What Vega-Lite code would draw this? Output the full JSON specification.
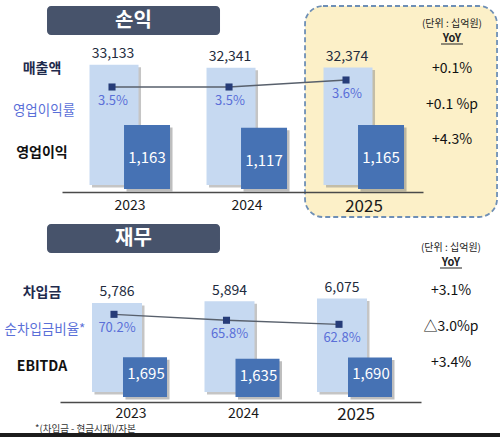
{
  "$schema": "https://vega.github.io/schema/vega-lite/v6.json",
  "background": "#1c1c1c",
  "padding": {"left": 0, "top": 0, "right": 0, "bottom": 4},
  "spacing": 0,
  "bounds": "flush",
  "config": {"view": {"fill": "#ffffff", "stroke": null}, "font": "Noto Sans CJK KR", "text": {"font": "Noto Sans CJK KR", "baseline": "middle"}},
  "datasets": {
    "pl": [
      {"year": "2023", "revenue": 33133, "op": 1163, "margin": 0.035},
      {"year": "2024", "revenue": 32341, "op": 1117, "margin": 0.035},
      {"year": "2025", "revenue": 32374, "op": 1165, "margin": 0.036}
    ],
    "fin": [
      {"year": "2023", "debt": 5786, "ebitda": 1695, "ratio": 0.702},
      {"year": "2024", "debt": 5894, "ebitda": 1635, "ratio": 0.658},
      {"year": "2025", "debt": 6075, "ebitda": 1690, "ratio": 0.628}
    ],
    "plRows": [
      {"metric": "매출액", "yoy": "+0.1%"},
      {"metric": "영업이익률", "yoy": "+0.1 %p"},
      {"metric": "영업이익", "yoy": "+4.3%"}
    ],
    "finRows": [
      {"metric": "차입금", "yoy": "+3.1%"},
      {"metric": "순차입금비율*", "yoy": "△3.0%p"},
      {"metric": "EBITDA", "yoy": "+3.4%"}
    ],
    "units": [{"h": "(단위 : 십억원)"}, {"h": "YoY"}],
    "plHead": [{"section": "손익"}],
    "finHead": [{"section": "재무", "note": "*(차입금 - 현금시재)/자본"}]
  },
  "vconcat": [
    {
      "width": 500,
      "height": 218,
      "view": {"fill": "#ffffff", "stroke": null},
      "resolve": {"scale": {"y": "independent"}},
      "layer": [
        {
          "data": {"name": "pl"},
          "transform": [{"filter": "datum.year == '2025'"}],
          "mark": {"type": "rect", "fill": "#fcf0c8", "stroke": "#6e8fb6", "strokeWidth": 1.8, "strokeDash": [5, 3], "cornerRadius": 18, "xOffset": -59, "x2Offset": 133},
          "encoding": {
            "x": {
              "field": "year", "type": "ordinal",
              "scale": {"type": "band", "domain": ["2023", "2024", "2025"], "range": [62, 423], "paddingInner": 0.5, "paddingOuter": 0.2927, "align": 0.566},
              "axis": {"title": null, "orient": "bottom", "offset": -26, "ticks": false, "domainColor": "#4a4a4a", "domainWidth": 1.5, "labelPadding": 6, "labelColor": "#1a1a1a", "labelAngle": 0, "labelFontSize": {"condition": {"test": "datum.value == '2025'", "value": 17}, "value": 14}, "zindex": 1}
            },
            "x2": {"field": "year"},
            "y": {"datum": 0, "type": "quantitative", "scale": {"domain": [0, 1], "range": [6, 217]}, "axis": null},
            "y2": {"datum": 1}
          }
        },
        {
          "data": {"name": "plHead"},
          "encoding": {
            "y": {"datum": 0, "type": "quantitative", "scale": {"domain": [0, 1], "range": [6, 35]}, "axis": null}
          },
          "layer": [
            {"mark": {"type": "rect", "fill": "#47536b", "cornerRadius": 4, "xOffset": -83, "x2Offset": 90},
             "encoding": {"x": {"datum": "2023", "type": "ordinal"}, "x2": {"datum": "2023"}, "y2": {"datum": 1}}},
            {"mark": {"type": "text", "color": "#ffffff", "fontSize": 20, "fontWeight": "bold", "dx": 3.5},
             "encoding": {"x": {"datum": "2023", "type": "ordinal"}, "y": {"datum": 0.5, "type": "quantitative"}, "text": {"field": "section"}}}
          ]
        },
        {
          "data": {"name": "pl"},
          "encoding": {
            "x": {"field": "year", "type": "ordinal"},
            "y": {"field": "revenue", "type": "quantitative", "scale": {"domain": [0, 51000], "range": [185, 0], "nice": false}, "axis": null}
          },
          "layer": [
            {"mark": {"type": "bar", "color": "#7f7f7f", "opacity": 0.45, "width": 49, "xOffset": -13.5, "yOffset": 2.5, "y2Offset": 2.5}},
            {"mark": {"type": "bar", "color": "#c6d9f1", "width": 49, "xOffset": -16}},
            {"mark": {"type": "text", "fontSize": 14, "color": "#222b3d", "dx": -17, "dy": -11}, "encoding": {"text": {"field": "revenue", "format": ",d"}}}
          ]
        },
        {
          "data": {"name": "pl"},
          "encoding": {
            "x": {"field": "year", "type": "ordinal"},
            "y": {"field": "op", "type": "quantitative", "scale": {"domain": [0, 3440], "range": [189, 0], "nice": false}, "axis": null}
          },
          "layer": [
            {"mark": {"type": "bar", "color": "#6f6f6f", "opacity": 0.45, "width": 46, "xOffset": 19.5, "yOffset": 2.5, "y2Offset": 2.5}},
            {"mark": {"type": "bar", "color": "#4672b4", "width": 46, "xOffset": 17}},
            {"mark": {"type": "text", "fontSize": 15, "color": "#ffffff", "dx": 17, "dy": 33}, "encoding": {"text": {"field": "op", "format": ",d"}}}
          ]
        },
        {
          "data": {"name": "pl"},
          "encoding": {
            "x": {"field": "year", "type": "ordinal"},
            "y": {"field": "margin", "type": "quantitative", "scale": {"domain": [0.03, 0.04], "range": [122, 52], "nice": false, "zero": false}, "axis": null}
          },
          "layer": [
            {"mark": {"type": "line", "color": "#58606c", "strokeWidth": 1.3, "xOffset": -18}, "encoding": {}},
            {"mark": {"type": "point", "shape": "square", "filled": true, "size": 50, "color": "#263c78", "opacity": 1, "xOffset": -18}},
            {"mark": {"type": "text", "fontSize": 13, "color": "#5a6fd8", "dx": -17, "dy": 14}, "encoding": {"text": {"field": "margin", "format": ".1%"}}}
          ]
        },
        {
          "data": {"name": "plRows"},
          "encoding": {
            "y": {"field": "metric", "type": "ordinal", "scale": {"type": "point", "domain": ["매출액", "영업이익률", "영업이익"], "range": [69, 153], "padding": 0}, "axis": null},
            "text": {"field": "metric"}
          },
          "layer": [
            {"transform": [{"filter": "datum.metric != '영업이익률'"}],
             "mark": {"type": "text", "align": "center", "dx": -208, "fontSize": 14, "fontWeight": "bold"},
             "encoding": {"color": {"condition": {"test": "datum.metric == '매출액'", "value": "#1f2b4d"}, "value": "#111111"}}},
            {"transform": [{"filter": "datum.metric == '영업이익률'"}],
             "mark": {"type": "text", "align": "center", "dx": -206, "fontSize": 13.5, "color": "#5a6fd8"}}
          ]
        },
        {
          "data": {"name": "plRows"},
          "mark": {"type": "text", "fontSize": 14, "color": "#111111", "dx": 202},
          "encoding": {
            "y": {"field": "metric", "type": "ordinal", "scale": {"type": "point", "domain": ["매출액", "영업이익률", "영업이익"], "range": [69, 140], "padding": 0}, "axis": null},
            "text": {"field": "yoy"}
          }
        },
        {
          "data": {"name": "units"},
          "encoding": {
            "y": {"field": "h", "type": "ordinal", "scale": {"type": "point", "domain": ["(단위 : 십억원)", "YoY"], "range": [24, 39], "padding": 0}, "axis": null}
          },
          "layer": [
            {"transform": [{"filter": "datum.h != 'YoY'"}], "mark": {"type": "text", "fontSize": 10, "color": "#222222", "dx": 202}, "encoding": {"text": {"field": "h"}}},
            {"transform": [{"filter": "datum.h == 'YoY'"}], "mark": {"type": "text", "fontSize": 11, "fontWeight": "bold", "color": "#222222", "dx": 202}, "encoding": {"text": {"field": "h"}}},
            {"transform": [{"filter": "datum.h == 'YoY'"}], "mark": {"type": "rule", "color": "#222222", "strokeWidth": 1, "xOffset": 77, "x2Offset": 99, "yOffset": 5},
             "encoding": {"x": {"datum": "2025", "type": "ordinal"}, "x2": {"datum": "2025"}}}
          ]
        }
      ]
    },
    {
      "width": 500,
      "height": 215,
      "view": {"fill": "#ffffff", "stroke": null},
      "resolve": {"scale": {"y": "independent"}},
      "layer": [
        {
          "data": {"name": "finHead"},
          "encoding": {
            "y": {"datum": 0, "type": "quantitative", "scale": {"domain": [0, 1], "range": [6, 35]}, "axis": null}
          },
          "layer": [
            {"mark": {"type": "rect", "fill": "#47536b", "cornerRadius": 4, "xOffset": -84, "x2Offset": 89},
             "encoding": {"x": {
               "datum": "2023", "type": "ordinal",
               "scale": {"type": "band", "domain": ["2023", "2024", "2025"], "range": [60, 421], "paddingInner": 0.5, "paddingOuter": 0.3544, "align": 0.5376},
               "axis": {"title": null, "orient": "bottom", "offset": -31, "ticks": false, "domainColor": "#4a4a4a", "domainWidth": 1.5, "labelPadding": 4, "labelColor": "#1a1a1a", "labelAngle": 0, "labelFontSize": {"condition": {"test": "datum.value == '2025'", "value": 17}, "value": 14}, "zindex": 1}
             }, "x2": {"datum": "2023"}, "y2": {"datum": 1}}},
            {"mark": {"type": "text", "color": "#ffffff", "fontSize": 20, "fontWeight": "bold", "dx": 2.5},
             "encoding": {"x": {"datum": "2023", "type": "ordinal"}, "y": {"datum": 0.5, "type": "quantitative"}, "text": {"field": "section"}}},
            {"mark": {"type": "text", "align": "left", "fontSize": 9.5, "color": "#333333", "dx": -215},
             "encoding": {"y": {"datum": 7.07, "type": "quantitative"}, "text": {"field": "note"}}}
          ]
        },
        {
          "data": {"name": "fin"},
          "encoding": {
            "x": {"field": "year", "type": "ordinal"},
            "y": {"field": "debt", "type": "quantitative", "scale": {"domain": [0, 11300], "range": [174, 0], "nice": false}, "axis": null}
          },
          "layer": [
            {"mark": {"type": "bar", "color": "#7f7f7f", "opacity": 0.45, "width": 50, "xOffset": -11.5, "yOffset": 2.5, "y2Offset": 2.5}},
            {"mark": {"type": "bar", "color": "#c6d9f1", "width": 50, "xOffset": -14}},
            {"mark": {"type": "text", "fontSize": 14, "color": "#222b3d", "dx": -14, "dy": -10.5}, "encoding": {"text": {"field": "debt", "format": ",d"}}}
          ]
        },
        {
          "data": {"name": "fin"},
          "encoding": {
            "x": {"field": "year", "type": "ordinal"},
            "y": {"field": "ebitda", "type": "quantitative", "scale": {"domain": [0, 7643], "range": [179, 0], "nice": false}, "axis": null}
          },
          "layer": [
            {"mark": {"type": "bar", "color": "#6f6f6f", "opacity": 0.45, "width": 44, "xOffset": 16.5, "yOffset": 2.5, "y2Offset": 2.5}},
            {"mark": {"type": "bar", "color": "#4672b4", "width": 44, "xOffset": 14}},
            {"mark": {"type": "text", "fontSize": 15, "color": "#ffffff", "dx": 15, "dy": 17}, "encoding": {"text": {"field": "ebitda", "format": ",d"}}}
          ]
        },
        {
          "data": {"name": "fin"},
          "encoding": {
            "x": {"field": "year", "type": "ordinal"},
            "y": {"field": "ratio", "type": "quantitative", "scale": {"domain": [0.5, 0.9], "range": [123.6, 69.6], "nice": false, "zero": false}, "axis": null}
          },
          "layer": [
            {"mark": {"type": "line", "color": "#58606c", "strokeWidth": 1.3, "xOffset": -17}, "encoding": {}},
            {"mark": {"type": "point", "shape": "square", "filled": true, "size": 50, "color": "#263c78", "opacity": 1, "xOffset": -17}},
            {"mark": {"type": "text", "fontSize": 13, "color": "#5a6fd8", "dx": -14, "dy": 14}, "encoding": {"text": {"field": "ratio", "format": ".1%"}}}
          ]
        },
        {
          "data": {"name": "finRows"},
          "encoding": {
            "y": {"field": "metric", "type": "ordinal", "scale": {"type": "point", "domain": ["차입금", "순차입금비율*", "EBITDA"], "range": [75, 149], "padding": 0}, "axis": null},
            "text": {"field": "metric"}
          },
          "layer": [
            {"transform": [{"filter": "datum.metric != '순차입금비율*'"}],
             "mark": {"type": "text", "align": "center", "dx": -208, "fontSize": 14, "fontWeight": "bold"},
             "encoding": {"color": {"condition": {"test": "datum.metric == '차입금'", "value": "#1f2b4d"}, "value": "#111111"}}},
            {"transform": [{"filter": "datum.metric == '순차입금비율*'"}],
             "mark": {"type": "text", "align": "center", "dx": -205, "fontSize": 13.5, "color": "#5a6fd8"}}
          ]
        },
        {
          "data": {"name": "finRows"},
          "mark": {"type": "text", "fontSize": 14, "color": "#111111", "dx": 201},
          "encoding": {
            "y": {"field": "metric", "type": "ordinal", "scale": {"type": "point", "domain": ["차입금", "순차입금비율*", "EBITDA"], "range": [73, 145], "padding": 0}, "axis": null},
            "text": {"field": "yoy"}
          }
        },
        {
          "data": {"name": "units"},
          "encoding": {
            "y": {"field": "h", "type": "ordinal", "scale": {"type": "point", "domain": ["(단위 : 십억원)", "YoY"], "range": [30, 45], "padding": 0}, "axis": null}
          },
          "layer": [
            {"transform": [{"filter": "datum.h != 'YoY'"}], "mark": {"type": "text", "fontSize": 10, "color": "#222222", "dx": 201}, "encoding": {"text": {"field": "h"}}},
            {"transform": [{"filter": "datum.h == 'YoY'"}], "mark": {"type": "text", "fontSize": 11, "fontWeight": "bold", "color": "#222222", "dx": 201}, "encoding": {"text": {"field": "h"}}},
            {"transform": [{"filter": "datum.h == 'YoY'"}], "mark": {"type": "rule", "color": "#222222", "strokeWidth": 1, "xOffset": 84, "x2Offset": 106, "yOffset": 5},
             "encoding": {"x": {"datum": "2025", "type": "ordinal"}, "x2": {"datum": "2025"}}}
          ]
        }
      ]
    }
  ]
}
